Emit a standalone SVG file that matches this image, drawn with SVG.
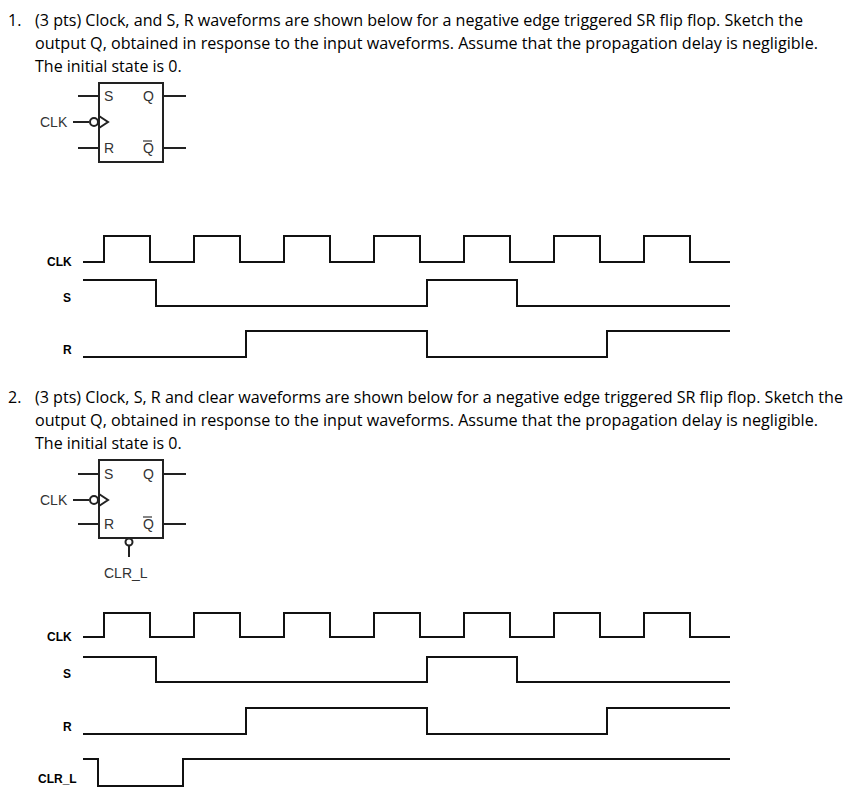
<svg xmlns="http://www.w3.org/2000/svg" width="866" height="797" viewBox="0 0 866 797">
<style>
.t{font-family:"Open Sans","Liberation Sans",sans-serif;font-size:16px;fill:#000}
.f{font-family:"Liberation Sans",Arial,sans-serif;font-size:14px;fill:#333}
.w{fill:none;stroke:#111;stroke-width:2}
.b{fill:none;stroke:#222;stroke-width:2}
.l{font-family:"Liberation Sans",Arial,sans-serif;font-size:12px;font-weight:bold;fill:#000}
</style>
<rect width="866" height="797" fill="#fff"/>
<g id="text1">
<text class="t" x="8" y="26">1.</text>
<text class="t" x="35" y="26" textLength="768" lengthAdjust="spacingAndGlyphs">(3 pts) Clock, and S, R waveforms are shown below for a negative edge triggered SR flip flop. Sketch the</text>
<text class="t" x="35" y="49" textLength="783" lengthAdjust="spacingAndGlyphs">output Q, obtained in response to the input waveforms.  Assume that the propagation delay is negligible.</text>
<text class="t" x="35" y="72">The initial state is 0.</text>
</g>
<g id="ff1">
<rect class="b" x="99" y="83" width="64" height="79"/>
<path class="b" d="M78 96H99M78 148H99M163 96H186M163 148H186M73 122H89M99 116L108 122L99 128"/>
<circle cx="94" cy="122" r="4" fill="#fff" stroke="#222" stroke-width="2"/>
<text class="f" x="40" y="127">CLK</text>
<text class="f" x="104" y="101">S</text>
<text class="f" x="104" y="153">R</text>
<text class="f" x="143" y="101" font-size="12">Q</text>
<text class="f" x="143" y="153" font-size="12">Q</text>
<path d="M143 141H152" stroke="#333" stroke-width="1.2"/>
</g>
<g id="waves1">
<text class="l" x="47" y="266">CLK</text>
<text class="l" x="63" y="302">S</text>
<text class="l" x="63" y="354">R</text>
<path class="w" d="M83 262H104V236H150V262H194V236H240V262H284V236H330V262H374V236H420V262H464V236H510V262H554V236H600V262H644V236H690V262H730"/>
<path class="w" d="M83 280H156V306H427V280H517V306H730"/>
<path class="w" d="M83 357H246V331H427V357H607V331H730"/>
</g>
<g id="text2">
<text class="t" x="8" y="403">2.</text>
<text class="t" x="35" y="403" textLength="808" lengthAdjust="spacingAndGlyphs">(3 pts) Clock, S, R and clear waveforms are shown below for a negative edge triggered SR flip flop. Sketch the</text>
<text class="t" x="35" y="426" textLength="783" lengthAdjust="spacingAndGlyphs">output Q, obtained in response to the input waveforms.  Assume that the propagation delay is negligible.</text>
<text class="t" x="35" y="449">The initial state is 0.</text>
</g>
<g id="ff2">
<rect class="b" x="99" y="460" width="64" height="78"/>
<path class="b" d="M78 474H99M78 524H99M163 474H186M163 524H186M73 500H89M99 494L108 500L99 506M129 546V557"/>
<circle cx="94" cy="500" r="4" fill="#fff" stroke="#222" stroke-width="2"/>
<circle cx="129" cy="542" r="3.5" fill="#fff" stroke="#222" stroke-width="2"/>
<text class="f" x="40" y="505">CLK</text>
<text class="f" x="104" y="479">S</text>
<text class="f" x="104" y="529">R</text>
<text class="f" x="143" y="479" font-size="12">Q</text>
<text class="f" x="143" y="529" font-size="12">Q</text>
<path d="M143 517H152" stroke="#333" stroke-width="1.2"/>
<text class="f" x="104" y="578">CLR_L</text>
</g>
<g id="waves2">
<text class="l" x="47" y="641">CLK</text>
<text class="l" x="63" y="678">S</text>
<text class="l" x="63" y="731">R</text>
<text class="l" x="38" y="783">CLR_L</text>
<path class="w" d="M83 637H104V613H150V637H194V613H240V637H284V613H330V637H374V613H420V637H464V613H510V637H554V613H600V637H644V613H690V637H730"/>
<path class="w" d="M83 657H156V682H427V657H517V682H730"/>
<path class="w" d="M83 734H246V708H427V734H607V708H730"/>
<path class="w" d="M83 759H98V786H183V759H730"/>
</g>
</svg>
